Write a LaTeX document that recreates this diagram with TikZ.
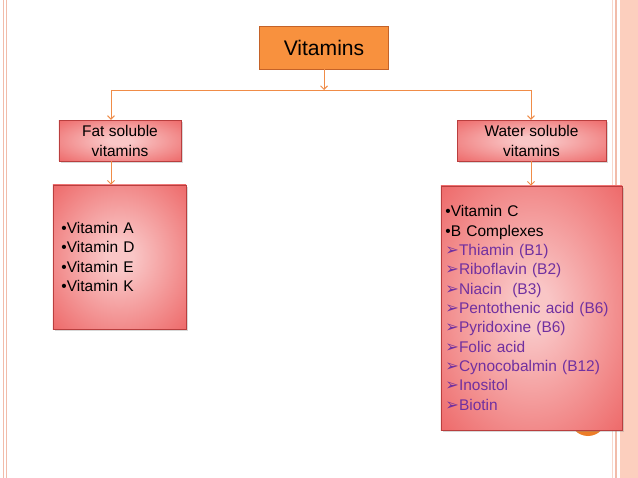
\documentclass[tikz,border=0pt]{standalone}
\usepackage{fontspec}
\setmainfont{Liberation Sans}
\newfontfamily\dingfont{DejaVu Sans}
\usepackage{tikz}
\usetikzlibrary{positioning,shadows,arrows.meta}
\definecolor{VitOrange}{RGB}{248,145,62}
\definecolor{VitOrangeLine}{RGB}{196,98,40}
\definecolor{VitArrow}{RGB}{240,140,72}
\definecolor{VitPinkOuter}{RGB}{236,92,92}
\definecolor{VitPinkInner}{RGB}{249,198,198}
\definecolor{VitPinkLine}{RGB}{185,62,62}
\definecolor{VitPurple}{RGB}{112,48,160}
\definecolor{VitStripe}{RGB}{242,188,170}
\definecolor{VitBand}{RGB}{252,207,190}
\definecolor{VitBadge}{RGB}{236,125,40}
\pgfdeclareradialshading{vitglow}{\pgfpoint{0bp}{0bp}}{color(0bp)=(VitPinkInner); color(5bp)=(VitPinkInner); color(40bp)=(VitPinkOuter); color(100bp)=(VitPinkOuter)}
\newcommand{\vsub}[1]{{\color{VitPurple}{\dingfont\fontsize{11.5}{10}\selectfont ➢}#1}}

\begin{document}
\begin{tikzpicture}[x=0.025cm,y=-0.025cm,>={Straight Barb[length=2.5pt,width=5pt]},
  top/.style={draw=VitOrangeLine,fill=VitOrange,minimum width=3.22cm,minimum height=1.08cm,font=\fontsize{15}{18}\selectfont},
  kind/.style={draw=VitPinkLine,shading=vitglow,drop shadow={opacity=0.3,shadow xshift=1.2pt,shadow yshift=-1.2pt},minimum height=0.93cm,align=center,font=\fontsize{11}{14.2}\selectfont},
  list/.style={kind,align=left,font=\fontsize{11}{13.75}\selectfont},
  arr/.style={->,draw=VitArrow,line width=0.7pt}]
  \useasboundingbox (0,0) rectangle (638,478);
  % slide frame
  \fill[white] (0,0) rectangle (638,478);
  \draw[VitStripe,line width=0.8pt] (3.5,0) -- (3.5,478);
  \draw[VitStripe,line width=0.8pt] (6.5,0) -- (6.5,478);
  \fill[VitBand] (620,0) rectangle (638,478);
  \draw[VitStripe!60,line width=0.6pt] (612,0) -- (612,478);
  \draw[VitStripe,line width=1.4pt] (616,0) -- (616,478);
  \fill[VitBadge] (588,418) circle (18);
  % boxes
  \node[top] (vitamins) at (324,47.5) {Vitamins};
  \node[kind,minimum width=3.05cm] (fat) at (120,140.5) {Fat soluble\\vitamins};
  \node[kind,minimum width=3.72cm] (water) at (531.5,140.5) {Water soluble\\vitamins};
  \node[list,minimum height=3.6cm,text width=2.9cm,inner xsep=0.215cm] (fatlist) at (119.5,257) {•Vitamin A\\•Vitamin D\\•Vitamin E\\•Vitamin K};
  \node[list,minimum height=6.1cm,text width=4.3cm,inner xsep=0.115cm] (waterlist) at (531.5,308) {•Vitamin C\\•B Complexes\\\vsub{Thiamin (B1)}\\\vsub{Riboflavin (B2)}\\\vsub{Niacin\ \ (B3)}\\\vsub{Pentothenic acid (B6)}\\\vsub{Pyridoxine (B6)}\\\vsub{Folic acid}\\\vsub{Cynocobalmin (B12)}\\\vsub{Inositol}\\\vsub{Biotin}};
  % connectors
  \coordinate (split) at (324,90);
  \coordinate (lturn) at (111,90);
  \coordinate (rturn) at (531,90);
  \draw[arr] (vitamins) -- (split);
  \draw[draw=VitArrow,line width=0.7pt] (lturn) -- (rturn);
  \draw[arr] (lturn) -- (lturn |- fat.north);
  \draw[arr] (rturn) -- (rturn |- water.north);
  \draw[arr] (fat.south -| lturn) -- (fatlist.north -| lturn);
  \draw[arr] (water.south -| rturn) -- (waterlist.north -| rturn);
\end{tikzpicture}
\end{document}
